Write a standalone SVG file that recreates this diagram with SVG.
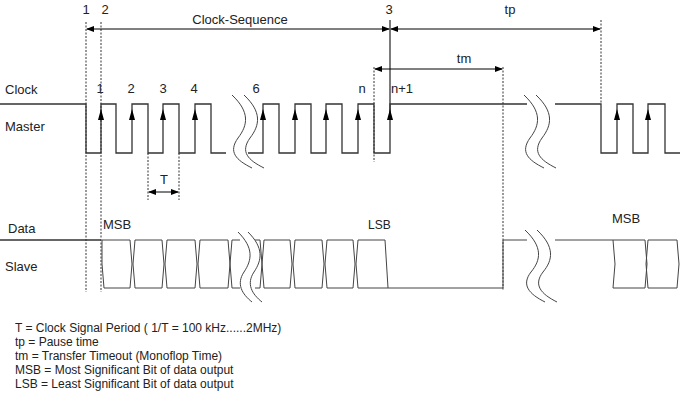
<svg xmlns="http://www.w3.org/2000/svg" width="690" height="400" viewBox="0 0 690 400">
<defs>
<marker id="ar" markerWidth="8" markerHeight="8" refX="7" refY="4" orient="auto-start-reverse" markerUnits="userSpaceOnUse"><path d="M0,1 L8,4 L0,7 Z" fill="#000"/></marker>
<style>
.s{fill:none;stroke:#333;stroke-width:1.3}
.d{fill:none;stroke:#333;stroke-width:1;stroke-dasharray:2,1.5}
.a{fill:none;stroke:#000;stroke-width:1}
.w{fill:none;stroke:#444;stroke-width:1}
text{font-family:"Liberation Sans",Arial,sans-serif;font-size:13px;fill:#222}
.l{font-size:12px}
</style>
</defs>
<rect width="690" height="400" fill="#fff"/>
<g id="labels">
<text x="86" y="14" text-anchor="middle">1</text>
<text x="105" y="14" text-anchor="middle">2</text>
<text x="240" y="24" text-anchor="middle">Clock-Sequence</text>
<text x="389" y="14" text-anchor="middle">3</text>
<text x="510" y="14" text-anchor="middle">tp</text>
<text x="464" y="63" text-anchor="middle">tm</text>
<text x="5" y="94">Clock</text>
<text x="5" y="131">Master</text>
<text x="8" y="233">Data</text>
<text x="5" y="271">Slave</text>
<text x="100" y="93" text-anchor="middle">1</text>
<text x="131" y="93" text-anchor="middle">2</text>
<text x="163" y="93" text-anchor="middle">3</text>
<text x="194" y="93" text-anchor="middle">4</text>
<text x="256" y="93" text-anchor="middle">6</text>
<text x="362" y="93" text-anchor="middle">n</text>
<text x="402" y="93" text-anchor="middle">n+1</text>
<text x="164" y="184" text-anchor="middle">T</text>
<text x="103" y="229">MSB</text>
<text x="368" y="229" class="l">LSB</text>
<text x="612" y="223">MSB</text>
</g>
<g id="legend">
<text x="15" y="332" class="l">T = Clock Signal Period ( 1/T = 100 kHz......2MHz)</text>
<text x="15" y="346" class="l">tp = Pause time</text>
<text x="15" y="360" class="l">tm = Transfer Timeout (Monoflop Time)</text>
<text x="15" y="374" class="l">MSB = Most Significant Bit of data output</text>
<text x="15" y="388" class="l">LSB = Least Significant Bit of data output</text>
</g>
<g id="connectors">
<line class="d" x1="86" y1="22" x2="86" y2="292"/>
<line class="d" x1="101" y1="22" x2="101" y2="292"/>
<line class="s" x1="390" y1="20" x2="390" y2="118"/>
<line class="d" x1="601" y1="20" x2="601" y2="104"/>
<line class="d" x1="374" y1="67" x2="374" y2="162"/>
<line class="d" x1="503" y1="67" x2="503" y2="290"/>
<line class="d" x1="148" y1="153" x2="148" y2="200"/>
<line class="d" x1="179" y1="153" x2="179" y2="200"/>
<line class="a" x1="87" y1="29" x2="389" y2="29" marker-start="url(#ar)" marker-end="url(#ar)"/>
<line class="a" x1="391" y1="29" x2="600" y2="29" marker-start="url(#ar)" marker-end="url(#ar)"/>
<line class="a" x1="375" y1="69" x2="502" y2="69" marker-start="url(#ar)" marker-end="url(#ar)"/>
<line class="a" x1="149" y1="192" x2="178" y2="192" marker-start="url(#ar)" marker-end="url(#ar)"/>
</g>
<g id="clock">
<path class="s" d="M0,104 H86 V153 H101 V104 H116 V153 H132 V104 H148 V153 H163 V104 H179 V153 H195 V104 H211 V153 H226"/>
<path class="s" d="M248,153 H263 V104 H279 V153 H295 V104 H311 V153 H326 V104 H342 V153 H358 V104 H374 V153 H390 V104 H527"/>
<path class="s" d="M555,104 H601 V153 H617 V104 H633 V153 H648 V104 H665 V153 H680"/>
<g fill="#000">
<path d="M98,120 L101,109 L104,120 Z"/><path d="M129,120 L132,109 L135,120 Z"/><path d="M160,120 L163,109 L166,120 Z"/><path d="M192,120 L195,109 L198,120 Z"/>
<path d="M260,120 L263,109 L266,120 Z"/><path d="M292,120 L295,109 L298,120 Z"/><path d="M323,120 L326,109 L329,120 Z"/><path d="M355,120 L358,109 L361,120 Z"/><path d="M387,120 L390,109 L393,120 Z"/>
<path d="M614,120 L617,109 L620,120 Z"/><path d="M645,120 L648,109 L651,120 Z"/>
</g>
<path class="w" d="M232,95 C250,112 248,125 238,138 C228,152 236,160 252,168"/>
<path class="w" d="M244,95 C262,112 260,125 250,138 C240,152 248,160 264,168"/>
<path class="w" d="M524,95 C542,112 540,125 530,138 C520,152 528,160 544,168"/>
<path class="w" d="M536,95 C554,112 552,125 542,138 C532,152 540,160 556,168"/>
</g>
<g id="data">
<path class="s" d="M0,240 H101"/>
<g class="w" stroke-width="1.2">
<path d="M102,240 H130 L132,264 L130,288 H104 L102,264 Z"/>
<path d="M135,240 H162 L164,264 L162,288 H135 L133,264 Z"/>
<path d="M167,240 H195 L197,264 L195,288 H167 L165,264 Z"/>
<path d="M200,240 H228 L230,264 L228,288 H200 L198,264 Z"/>
<path d="M232,240 H240 M232,288 H240 M232,240 L230,264 L232,288"/>
<path d="M255,240 H260 M255,288 H260 M260,240 L262,264 L260,288"/>
<path d="M264,240 H290 L292,264 L290,288 H264 L262,264 Z"/>
<path d="M295,240 H322 L324,264 L322,288 H295 L293,264 Z"/>
<path d="M327,240 H353 L355,264 L353,288 H327 L325,264 Z"/>
<path d="M358,240 H385 L388,288 H503 V240 H527 M358,240 L356,264 L358,288 H388"/>
<path d="M555,240 H613 M613,240 L615,264 L613,288 H645 L647,264 L645,240 H613 M648,240 H677 L679,264 L677,288 H648 L646,264 Z"/>
</g>
<path class="w" d="M238,232 C254,248 252,260 244,272 C236,284 242,294 252,302"/>
<path class="w" d="M248,232 C264,248 262,260 254,272 C246,284 252,294 262,302"/>
<path class="w" d="M525,230 C543,247 541,260 531,272 C521,285 529,294 545,302"/>
<path class="w" d="M537,230 C555,247 553,260 543,272 C533,285 541,294 557,302"/>
</g>
</svg>
